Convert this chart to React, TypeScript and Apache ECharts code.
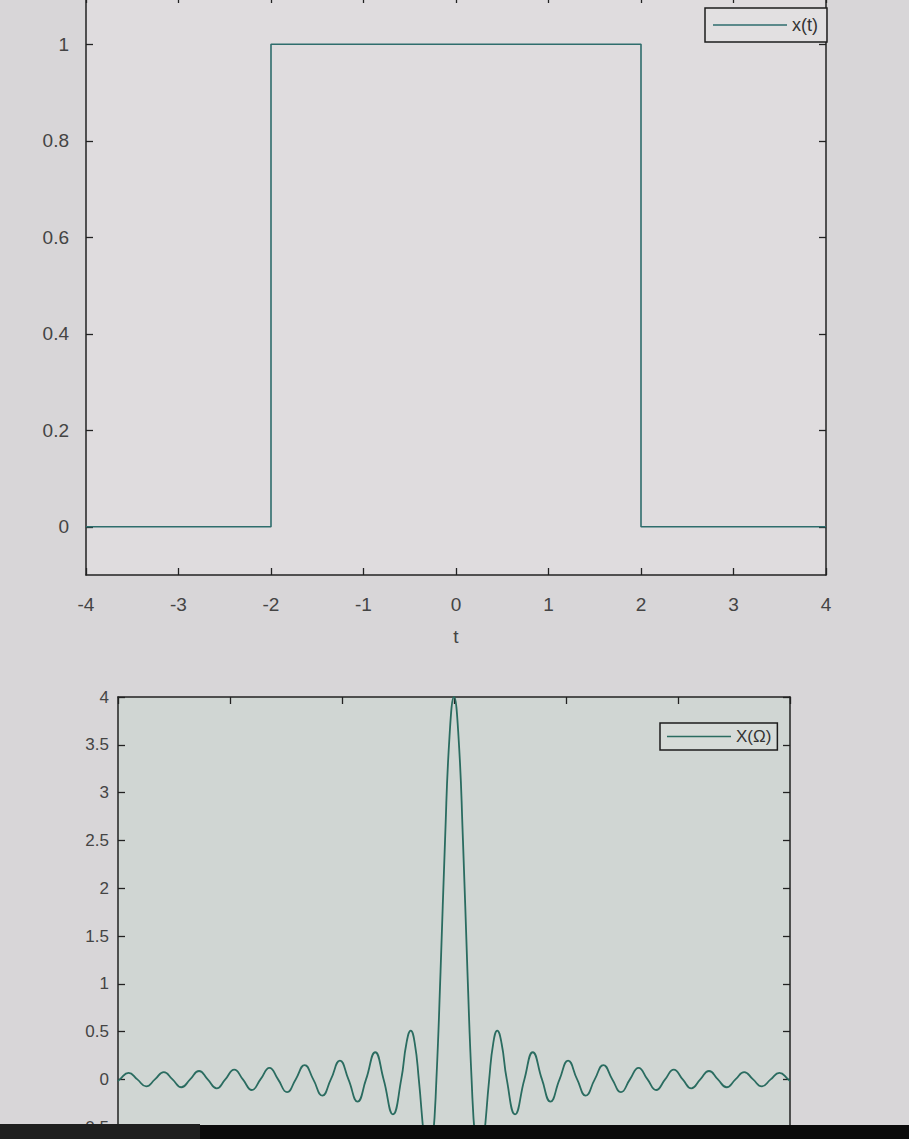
import React, { useEffect, useRef } from "react";
import * as echarts from "echarts";

// top plot: rectangular pulse x(t)
const tValues = [-4, -2, -2, 2, 2, 4];
const xValues = [0, 0, 1, 1, 0, 0];
const topXTicks = [-4, -3, -2, -1, 0, 1, 2, 3, 4];
const topYTicks = [0, 0.2, 0.4, 0.6, 0.8, 1];

// bottom plot: spectrum X(Ω) read at zero crossings and extrema
const omega = [
  -30, -29.845, -29.051, -28.274, -27.48, -26.704, -25.909, -25.133, -24.337, -23.562,
  -22.766, -21.991, -21.194, -20.42, -19.622, -18.85, -18.05, -17.279, -16.478, -15.708,
  -14.906, -14.137, -13.333, -12.566, -11.76, -10.996, -10.186, -9.425, -8.61, -7.854,
  -7.033, -6.283, -5.452, -4.712, -4.25, -3.863, -3.5, -3.142, -2.6, -2.247, -1.9, -1.571,
  -1.2, -0.8, -0.4, 0, 0.4, 0.8, 1.2,
  1.571, 1.9, 2.247, 2.6, 3.142, 3.5, 3.863, 4.25, 4.712, 5.452, 6.283, 7.033, 7.854,
  8.61, 9.425, 10.186, 10.996, 11.76, 12.566, 13.333, 14.137, 14.906, 15.708, 16.478,
  17.279, 18.05, 18.85, 19.622, 20.42, 21.194, 21.991, 22.766, 23.562, 24.337, 25.133,
  25.909, 26.704, 27.48, 28.274, 29.051, 29.845, 30,
];
const spectrum = [
  -0.02, 0, 0.069, 0, -0.073, 0, 0.077, 0, -0.082, 0,
  0.088, 0, -0.094, 0, 0.102, 0, -0.111, 0, 0.121, 0,
  -0.134, 0, 0.15, 0, -0.17, 0, 0.196, 0, -0.232, 0,
  0.284, 0, -0.365, 0, 0.376, 0.51, 0.375, 0, -0.68, -0.87, -0.64, 0,
  1.13, 2.5, 3.59, 4.0, 3.59, 2.5, 1.13,
  0, -0.64, -0.87, -0.68, 0, 0.375, 0.51, 0.376, 0, -0.365, 0, 0.284, 0,
  -0.232, 0, 0.196, 0, -0.17, 0, 0.15, 0, -0.134, 0, 0.121,
  0, -0.111, 0, 0.102, 0, -0.094, 0, 0.088, 0, -0.082, 0,
  0.077, 0, -0.073, 0, 0.069, 0, -0.02,
];
const bottomYLabels = [-0.5, 0, 0.5, 1, 1.5, 2, 2.5, 3, 3.5, 4];

const FONT = "'Liberation Sans', Arial, sans-serif";
const AXIS = "#222";

export default function App() {
  const ref = useRef<HTMLDivElement>(null);
  useEffect(() => {
    if (!ref.current) return;
    const chart = echarts.init(ref.current, undefined, { renderer: "svg" });
    const axisLine = { show: true, onZero: false, lineStyle: { color: AXIS, width: 1.5 } };
    const tickIn = (len: number, extra: any = {}) => ({
      show: true,
      inside: true,
      length: len,
      lineStyle: { color: AXIS, width: 1.3 },
      ...extra,
    });
    const option: any = {
      animation: false,
      backgroundColor: "#d8d6d8",
      textStyle: { fontFamily: FONT },
      grid: [
        {
          left: 86, right: 83, top: -4, height: 579,
          show: true, backgroundColor: "#dfdcde", borderWidth: 0,
          outerBoundsMode: "none", containLabel: false,
        },
        {
          left: 118, right: 119, top: 697, height: 478,
          show: true, backgroundColor: "#d0d6d3", borderWidth: 0,
          outerBoundsMode: "none", containLabel: false,
        },
      ],
      legend: [
        {
          data: ["x(t)"],
          left: 705,
          top: 8,
          icon: "rect",
          itemWidth: 74,
          itemHeight: 1.6,
          borderColor: "#1c1c1c",
          borderWidth: 1.5,
          padding: [8, 9, 8, 8],
          backgroundColor: "#e2e0e1",
          textStyle: { fontSize: 18, color: "#333", fontFamily: FONT },
        },
        {
          data: ["X(Ω)"],
          left: 660,
          top: 723,
          icon: "rect",
          itemWidth: 64,
          itemHeight: 1.6,
          borderColor: "#1c1c1c",
          borderWidth: 1.5,
          padding: [5, 6, 5, 7],
          backgroundColor: "#d6dbd8",
          textStyle: { fontSize: 17, color: "#333", fontFamily: FONT },
        },
      ],
      xAxis: [
        {
          type: "value",
          gridIndex: 0,
          min: -4,
          max: 4,
          interval: 1,
          axisLine,
          axisTick: tickIn(7),
          splitLine: { show: false },
          axisLabel: {
            fontSize: 19,
            color: "#444",
            margin: 20,
            fontFamily: FONT,
            customValues: topXTicks,
          },
          name: "t",
          nameLocation: "middle",
          nameGap: 52,
          nameTextStyle: { fontSize: 19, color: "#444", fontFamily: FONT },
        },
        {
          type: "value",
          gridIndex: 0,
          position: "top",
          min: -4,
          max: 4,
          interval: 1,
          axisLine,
          axisTick: tickIn(7),
          axisLabel: { show: false },
          splitLine: { show: false },
        },
        {
          type: "value",
          gridIndex: 1,
          min: -30,
          max: 30,
          interval: 10,
          axisLine,
          axisTick: tickIn(7),
          axisLabel: { show: false },
          splitLine: { show: false },
        },
        {
          type: "value",
          gridIndex: 1,
          position: "top",
          min: -30,
          max: 30,
          interval: 10,
          axisLine,
          axisTick: tickIn(7),
          axisLabel: { show: false },
          splitLine: { show: false },
        },
      ],
      yAxis: [
        {
          type: "value",
          gridIndex: 0,
          min: -0.1,
          max: 1.1,
          axisLine,
          axisTick: tickIn(7, { customValues: topYTicks }),
          splitLine: { show: false },
          axisLabel: {
            fontSize: 19,
            color: "#444",
            margin: 17,
            fontFamily: FONT,
            customValues: topYTicks,
            formatter: (v: number) => String(v),
          },
        },
        {
          type: "value",
          gridIndex: 0,
          position: "right",
          min: -0.1,
          max: 1.1,
          axisLine,
          axisTick: tickIn(7, { customValues: topYTicks }),
          axisLabel: { show: false },
          splitLine: { show: false },
        },
        {
          type: "value",
          gridIndex: 1,
          min: -1,
          max: 4,
          interval: 0.5,
          axisLine,
          axisTick: tickIn(7),
          splitLine: { show: false },
          axisLabel: {
            fontSize: 17,
            color: "#444",
            margin: 9,
            fontFamily: FONT,
            customValues: bottomYLabels,
            formatter: (v: number) => String(v),
          },
        },
        {
          type: "value",
          gridIndex: 1,
          position: "right",
          min: -1,
          max: 4,
          interval: 0.5,
          axisLine,
          axisTick: tickIn(7),
          axisLabel: { show: false },
          splitLine: { show: false },
        },
      ],
      series: [
        {
          name: "x(t)",
          type: "line",
          xAxisIndex: 0,
          yAxisIndex: 0,
          showSymbol: false,
          symbol: "none",
          data: tValues.map((t, i) => [t, xValues[i]]),
          lineStyle: { color: "#2e6d6c", width: 1.6 },
          itemStyle: { color: "#2e6d6c" },
        },
        {
          name: "X(Ω)",
          type: "line",
          xAxisIndex: 2,
          yAxisIndex: 2,
          showSymbol: false,
          symbol: "none",
          smooth: 0.5,
          data: omega.map((w, i) => [w, spectrum[i]]),
          lineStyle: { color: "#2a6c60", width: 1.8 },
          itemStyle: { color: "#2a6c60" },
        },
      ],
      graphic: [
        { type: "rect", z: 100, shape: { x: 0, y: 1124, width: 200, height: 15 }, style: { fill: "#1f1f1f" } },
        { type: "rect", z: 100, shape: { x: 200, y: 1125, width: 709, height: 14 }, style: { fill: "#0b0b0b" } },
      ],
    };
    chart.setOption(option);
    return () => chart.dispose();
  }, []);
  return (
    <div
      ref={ref}
      style={{ position: "fixed", left: 0, top: 0, width: 909, height: 1139 }}
    />
  );
}
